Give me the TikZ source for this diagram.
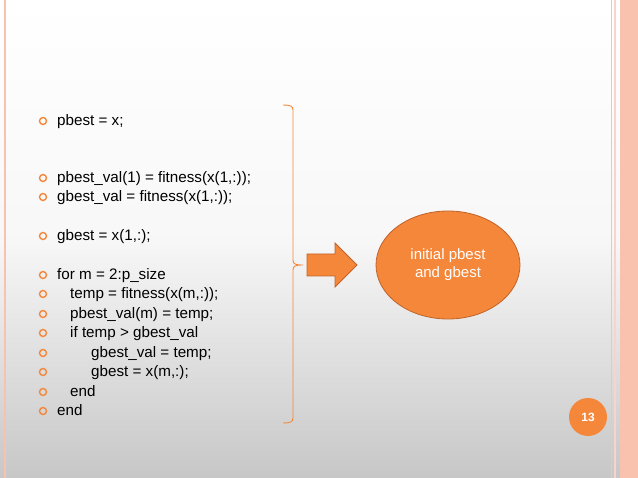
\documentclass[tikz,border=0pt]{standalone}
\usepackage{fontspec}
\setmainfont{Liberation Sans}
\usetikzlibrary{shapes.geometric}
\definecolor{org}{HTML}{F5873A}
\definecolor{orgd}{HTML}{C0632A}
\definecolor{sal}{HTML}{F8C2AE}
\begin{document}
\begin{tikzpicture}[x=1pt,y=-1pt,
  code/.style={anchor=base west,font=\fontsize{15.2}{17}\selectfont,inner sep=0pt},
  bul/.style={circle,draw=org,line width=1.4pt,minimum size=7pt,inner sep=0pt}]
\useasboundingbox (0,0) rectangle (638,478);
\shade[top color=white,bottom color=black!22,middle color=black!3] (0,0) rectangle (638,478);
\fill[sal] (620,0) rectangle (638,478);
\draw[sal,line width=1pt] (611,0) -- (611,478);
\draw[sal!70,line width=1.5pt] (615,0) -- (615,478);
\draw[sal,line width=2pt] (5,0) -- (5,478);
\foreach \y/\x/\t [count=\i] in {
 126/57/{pbest = x;},
 183/57/{pbest\_val(1) = fitness(x(1,:));},
 202/57/{gbest\_val = fitness(x(1,:));},
 241/57/{gbest = x(1,:);},
 280/57/{for m = 2:p\_size},
 299/70/{temp = fitness(x(m,:));},
 319/70/{pbest\_val(m) = temp;},
 338/70/{if temp > gbest\_val},
 358/91/{gbest\_val = temp;},
 377/91/{gbest = x(m,:);},
 397/70/{end},
 416/57/{end}} {
  \node[bul] (b\i) at (43,\y-5) {};
  \node[code] (t\i) at (\x,\y) {\t};
}
\draw[org,line width=0.9pt] (283,105) .. controls (290,105) and (293,106) .. (293,110) -- (293,260) .. controls (293,264) and (295,265) .. (303,265)
  (303,265) .. controls (295,265) and (293,266) .. (293,270) -- (293,418) .. controls (293,422) and (290,423) .. (283,423);
\coordinate (ar) at (307,265);
\draw[fill=org,draw=orgd,line width=0.8pt] (ar) ++(0,-11) -- ++(28,0) -- ++(0,-11) -- ++(22,22) -- ++(-22,22) -- ++(0,-11) -- ++(-28,0) -- cycle;
\node[ellipse,fill=org,draw=orgd,line width=0.8pt,minimum width=144pt,minimum height=108pt,align=center,text=white,font=\fontsize{15}{18}\selectfont] (el) at (448,265) {initial pbest\\and gbest};
\node[circle,fill=org,minimum size=38pt,inner sep=0pt,text=white,font=\bfseries\fontsize{12}{14}\selectfont] (pg) at (588,417) {13};
\end{tikzpicture}
\end{document}
